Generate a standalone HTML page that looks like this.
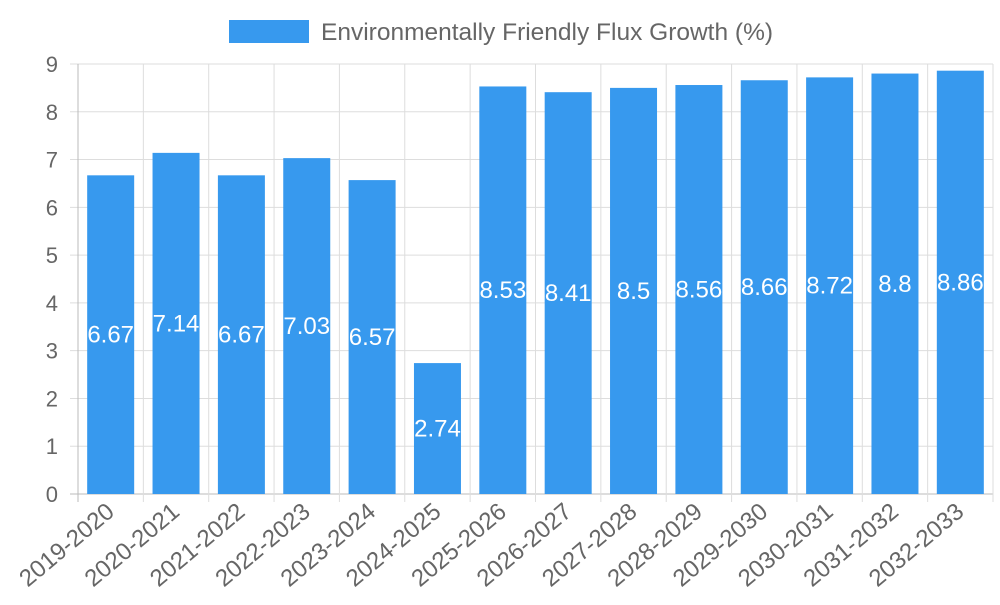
<!DOCTYPE html>
<html><head><meta charset="utf-8"><style>
body{margin:0;background:#fff;font-family:"Liberation Sans",sans-serif}
svg text{font-family:"Liberation Sans",sans-serif}
</style></head><body>
<svg id="c" width="1000" height="600">
<g>
<rect x="229" y="20" width="80" height="23" fill="#3799ee"/>
<text x="321" y="40" font-size="24.5" fill="#666">Environmentally Friendly Flux Growth (%)</text>
</g>
<g id="grid"></g><g id="bars"></g><g id="labels"></g>
</svg>
<script>
const categories=["2019-2020","2020-2021","2021-2022","2022-2023","2023-2024","2024-2025","2025-2026","2026-2027","2027-2028","2028-2029","2029-2030","2030-2031","2031-2032","2032-2033"];
const values=[6.67,7.14,6.67,7.03,6.57,2.74,8.53,8.41,8.5,8.56,8.66,8.72,8.8,8.86];
const yTicks=[0,1,2,3,4,5,6,7,8,9];
const NS="http://www.w3.org/2000/svg";
const L=78,R=993,T=64,B=494,yMax=9;
const bw=(R-L)/categories.length;
const y=v=>B-(v/yMax)*(B-T);
const x=i=>L+bw*i;
function mk(t,a,p){const e=document.createElementNS(NS,t);for(const k in a)e.setAttribute(k,a[k]);p.appendChild(e);return e;}
const g=document.getElementById('grid'),bg=document.getElementById('bars'),lg=document.getElementById('labels');
yTicks.forEach(v=>{
const l=mk('line',{x1:70,x2:R,y1:y(v),y2:y(v),stroke:v===0?'#bbb':'#ddd','stroke-width':1},g);


const t=mk('text',{x:58,y:y(v)+8,'text-anchor':'end','font-size':22,fill:'#666'},g);
t.textContent=v;


});
for(let i=0;i<=categories.length;i++){
const l=mk('line',{x1:x(i),x2:x(i),y1:T,y2:B+8,stroke:i===0?'#bbb':'#ddd','stroke-width':1},g);


}
categories.forEach((c,i)=>{
const cx=x(i)+bw/2,w=47;
const r=mk('rect',{x:cx-w/2,y:y(values[i]),width:w,height:B-y(values[i]),fill:'#3799ee'},bg);


const vt=mk('text',{x:cx,y:(y(values[i])+B)/2+8,'text-anchor':'middle','font-size':24,fill:'#fff'},lg);
vt.textContent=values[i];


const xt=mk('text',{x:cx+5,y:B+20,'text-anchor':'end','font-size':24,fill:'#666',transform:`rotate(-40 ${cx+5} ${B+20})`},lg);
xt.textContent=c;


});
</script>
</body></html>
